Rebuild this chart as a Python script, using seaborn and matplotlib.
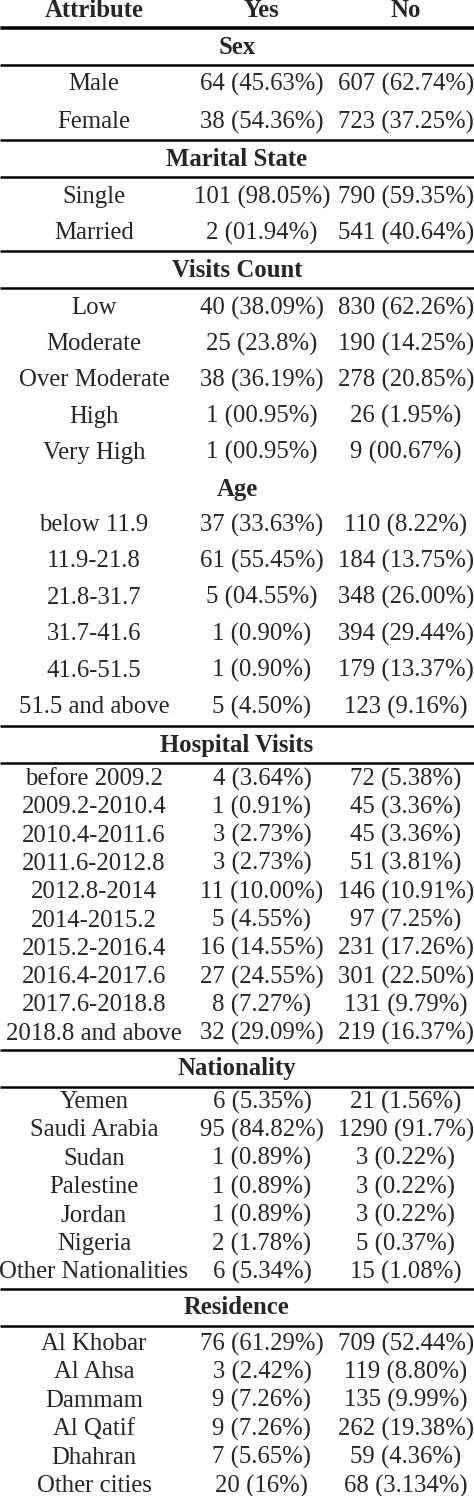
import matplotlib
matplotlib.use("Agg")
import matplotlib.pyplot as plt
import seaborn as sns
sns.set_style("white")
plt.rcParams['font.family'] = ['Liberation Serif', 'DejaVu Serif']

# table content
sections = ["Sex", "Marital State", "Visits Count", "Age", "Hospital Visits", "Nationality", "Residence"]
sex_rows = ["Male", "Female"]
sex_yes = ["64 (45.63%)", "38 (54.36%)"]
sex_no = ["607 (62.74%)", "723 (37.25%)"]
marital_rows = ["Single", "Married"]
marital_yes = ["101 (98.05%)", "2 (01.94%)"]
marital_no = ["790 (59.35%)", "541 (40.64%)"]
visits_rows = ["Low", "Moderate", "Over Moderate", "High", "Very High"]
visits_yes = ["40 (38.09%)", "25 (23.8%)", "38 (36.19%)", "1 (00.95%)", "1 (00.95%)"]
visits_no = ["830 (62.26%)", "190 (14.25%)", "278 (20.85%)", "26 (1.95%)", "9 (00.67%)"]
age_rows = ["below 11.9", "11.9-21.8", "21.8-31.7", "31.7-41.6", "41.6-51.5", "51.5 and above"]
age_yes = ["37 (33.63%)", "61 (55.45%)", "5 (04.55%)", "1 (0.90%)", "1 (0.90%)", "5 (4.50%)"]
age_no = ["110 (8.22%)", "184 (13.75%)", "348 (26.00%)", "394 (29.44%)", "179 (13.37%)", "123 (9.16%)"]
hosp_rows = ["before 2009.2", "2009.2-2010.4", "2010.4-2011.6", "2011.6-2012.8", "2012.8-2014",
             "2014-2015.2", "2015.2-2016.4", "2016.4-2017.6", "2017.6-2018.8", "2018.8 and above"]
hosp_yes = ["4 (3.64%)", "1 (0.91%)", "3 (2.73%)", "3 (2.73%)", "11 (10.00%)",
            "5 (4.55%)", "16 (14.55%)", "27 (24.55%)", "8 (7.27%)", "32 (29.09%)"]
hosp_no = ["72 (5.38%)", "45 (3.36%)", "45 (3.36%)", "51 (3.81%)", "146 (10.91%)",
           "97 (7.25%)", "231 (17.26%)", "301 (22.50%)", "131 (9.79%)", "219 (16.37%)"]
nat_rows = ["Yemen", "Saudi Arabia", "Sudan", "Palestine", "Jordan", "Nigeria", "Other Nationalities"]
nat_yes = ["6 (5.35%)", "95 (84.82%)", "1 (0.89%)", "1 (0.89%)", "1 (0.89%)", "2 (1.78%)", "6 (5.34%)"]
nat_no = ["21 (1.56%)", "1290 (91.7%)", "3 (0.22%)", "3 (0.22%)", "3 (0.22%)", "5 (0.37%)", "15 (1.08%)"]
res_rows = ["Al Khobar", "Al Ahsa", "Dammam", "Al Qatif", "Dhahran", "Other cities"]
res_yes = ["76 (61.29%)", "3 (2.42%)", "9 (7.26%)", "9 (7.26%)", "7 (5.65%)", "20 (16%)"]
res_no = ["709 (52.44%)", "119 (8.80%)", "135 (9.99%)", "262 (19.38%)", "59 (4.36%)", "68 (3.134%)"]

groups = [(sex_rows, sex_yes, sex_no), (marital_rows, marital_yes, marital_no),
          (visits_rows, visits_yes, visits_no), (age_rows, age_yes, age_no),
          (hosp_rows, hosp_yes, hosp_no), (nat_rows, nat_yes, nat_no),
          (res_rows, res_yes, res_no)]

# layout: (section title y, first row y, row step, rule above title, rule below title)
layout = [(47, 84, 38, True, True), (159, 197, 36, True, True), (270, 308, 36.2, True, True),
          (489, 525, 36.4, False, False), (745, 779, 28.3, True, True),
          (1069, 1102, 28.4, True, True), (1308, 1344, 28.4, True, True)]

W, H = 474, 1496
fig = plt.figure(figsize=(W / 100, H / 100), dpi=100)
ax = fig.add_axes([0, 0, 1, 1])
ax.set_xlim(0, W)
ax.set_ylim(H, 0)
ax.axis('off')

fs = 17.8
cx = [94, 262, 406]
for x, t in zip(cx, ["Attribute", "Yes", "No"]):
    ax.text(x, 10, t, ha='center', va='center', fontsize=fs, weight='bold')

lw = 1.8
for title, (rows, yes, no), (ty, ry, step, above, below) in zip(sections, groups, layout):
    if above:
        ax.hlines(ty - 19, 0, W, color='black', lw=lw)
    if below:
        ax.hlines(ty + 18, 0, W, color='black', lw=lw)
    ax.text(W / 2, ty, title, ha='center', va='center', fontsize=fs, weight='bold')
    for i, (r, y1, n1) in enumerate(zip(rows, yes, no)):
        y = ry + i * step
        ax.text(cx[0], y, r, ha='center', va='center', fontsize=fs)
        ax.text(cx[1], y, y1, ha='center', va='center', fontsize=fs)
        ax.text(cx[2], y, n1, ha='center', va='center', fontsize=fs)

# rule under the header
ax.hlines(27, 0, W, color='black', lw=lw)

fig.savefig("out.png", dpi=100)
